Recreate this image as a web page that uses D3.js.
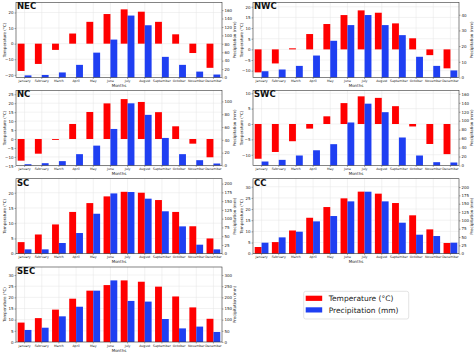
<!DOCTYPE html>
<html><head><meta charset="utf-8">
<script src="https://cdn.jsdelivr.net/npm/d3@7"></script>
<style>body{margin:0;background:#fff} svg{display:block}</style>
</head><body><svg id="c" width="474" height="355"></svg>
<script>
const months = ["January","February","March","April","May","June","July","August","September","October","November","December"];

const tempNEC = [-17.5, -13, -4, 6.5, 14, 19, 22, 20.5, 14, 6, -6, -15.5];
const precNEC = [5, 6, 12, 30, 59, 90, 147, 124, 49, 30, 14, 7];
const tempNWC = [-10.8, -6.6, 0.5, 7.2, 11.9, 16.1, 18.3, 17.2, 12.2, 5.2, -2.7, -8.9];
const precNWC = [4, 5.1, 7.4, 14, 23.4, 33.4, 39.8, 33.4, 27, 13.2, 7.4, 4.5];
const tempNC = [-12.1, -8.2, -0.5, 8.4, 15.1, 19.9, 22.3, 20.7, 15, 7.1, -2.6, -10.2];
const precNC = [2, 3.6, 6.8, 17.7, 31, 57, 97, 79, 43, 17.7, 8.3, 3.1];
const tempSWC = [-11.3, -9.1, -5.6, -1.5, 2.5, 6.8, 9, 8.5, 5.8, -0.8, -6.5, -9.8];
const precSWC = [8.9, 12.6, 22.3, 34, 47.6, 96, 138, 119, 62.5, 22.3, 7.4, 6.7];
const tempSC = [3.8, 6.3, 9.6, 13.7, 16.6, 18.8, 20.3, 20, 17.6, 13.7, 9, 5];
const precSC = [12.4, 12.4, 30.5, 59, 114, 172, 176, 157, 121, 78, 25.7, 12.4];
const tempCC = [3, 5.2, 10.4, 16.1, 20.9, 24.8, 27.8, 26.9, 22.7, 17.2, 10.9, 4.8];
const precCC = [33, 49, 66, 97, 113, 157, 186, 157, 93, 57, 53, 33];
const tempSEC = [8.7, 10.7, 14.5, 19.4, 23, 25.5, 27.6, 27, 24.8, 20.4, 15.5, 10.4];
const precSEC = [54, 64, 115, 158, 230, 276, 184, 181, 103, 61, 69, 45];

const tTicksNEC = [-20, -10, 0, 10, 20];
const pTicksNEC = [0, 20, 40, 60, 80, 100, 120, 140, 160];
const tTicksNWC = [-10, -5, 0, 5, 10, 15, 20];
const pTicksNWC = [0, 10, 20, 30, 40];
const tTicksNC = [-15, -10, -5, 0, 5, 10, 15, 20, 25];
const pTicksNC = [0, 20, 40, 60, 80, 100];
const tTicksSWC = [-10, -5, 0, 5, 10];
const pTicksSWC = [0, 20, 40, 60, 80, 100, 120, 140, 160];
const tTicksSC = [0, 5, 10, 15, 20];
const pTicksSC = [0, 25, 50, 75, 100, 125, 150, 175, 200];
const tTicksCC = [0, 5, 10, 15, 20, 25, 30];
const pTicksCC = [0, 25, 50, 75, 100, 125, 150, 175, 200];
const tTicksSEC = [0, 5, 10, 15, 20, 25, 30];
const pTicksSEC = [0, 50, 100, 150, 200, 250, 300];

const legendLabels = ["Temperature (°C)", "Precipitation (mm)"];

const RED = "#ff0000", BLUE = "#1f3ff2";
const FONT = "DejaVu Sans, sans-serif";
const colLeft = [16, 253], plotW = 206, rowTop = [2.5, 90.5, 178.7, 267], plotH = 75;

const panels = [
  {name:"NEC", col:0, row:0, temp:tempNEC, prec:precNEC, tDom:[-21.7,26.4], pDom:[0,178], tT:tTicksNEC, pT:pTicksNEC},
  {name:"NWC", col:1, row:0, temp:tempNWC, prec:precNWC, tDom:[-13.2,22], pDom:[0,47.8], tT:tTicksNWC, pT:pTicksNWC},
  {name:"NC", col:0, row:1, temp:tempNC, prec:precNC, tDom:[-14.8,27.1], pDom:[0,117], tT:tTicksNC, pT:pTicksNC},
  {name:"SWC", col:1, row:1, temp:tempSWC, prec:precSWC, tDom:[-13.5,10.9], pDom:[0,167.4], tT:tTicksSWC, pT:pTicksSWC},
  {name:"SC", col:0, row:2, temp:tempSC, prec:precSC, tDom:[0,24.6], pDom:[0,214], tT:tTicksSC, pT:pTicksSC},
  {name:"CC", col:1, row:2, temp:tempCC, prec:precCC, tDom:[0,33.6], pDom:[0,225], tT:tTicksCC, pT:pTicksCC},
  {name:"SEC", col:0, row:3, temp:tempSEC, prec:precSEC, tDom:[0,33.6], pDom:[0,336], tT:tTicksSEC, pT:pTicksSEC}
];

const svg = d3.select("#c");

panels.forEach(p => {
  const x0 = colLeft[p.col], y0 = rowTop[p.row];
  const g = svg.append("g").attr("transform", `translate(${x0},${y0})`);
  const x = d3.scaleBand().domain(months).range([0, plotW]);
  const yT = d3.scaleLinear().domain(p.tDom).range([plotH, 0]);
  const yP = d3.scaleLinear().domain(p.pDom).range([plotH, 0]);
  const c = m => x(m) + x.bandwidth() / 2;
  const bw = x.bandwidth() * 0.4;

  // grid
  g.append("g").selectAll("line").data(months).join("line")
    .attr("x1", c).attr("x2", c).attr("y1", 0).attr("y2", plotH)
    .attr("stroke", "#e4e4e4").attr("stroke-width", 0.5);
  g.append("g").selectAll("line").data(p.tT).join("line")
    .attr("x1", 0).attr("x2", plotW).attr("y1", d => yT(d)).attr("y2", d => yT(d))
    .attr("stroke", "#e4e4e4").attr("stroke-width", 0.5);

  // temperature bars
  g.append("g").selectAll("rect").data(p.temp).join("rect")
    .attr("x", (d, i) => c(months[i]) - bw)
    .attr("width", bw)
    .attr("y", d => yT(Math.max(0, d)))
    .attr("height", d => Math.abs(yT(d) - yT(0)))
    .attr("fill", RED);

  // precipitation bars
  g.append("g").selectAll("rect").data(p.prec).join("rect")
    .attr("x", (d, i) => c(months[i]))
    .attr("width", bw)
    .attr("y", d => yP(d))
    .attr("height", d => yP(0) - yP(d))
    .attr("fill", BLUE);

  // frame
  g.append("rect").attr("width", plotW).attr("height", plotH)
    .attr("fill", "none").attr("stroke", "#333").attr("stroke-width", 0.6);

  const styleAxis = (a, fs) => {
    a.select(".domain").remove();
    a.selectAll("line").attr("stroke", "#333").attr("stroke-width", 0.4);
    a.selectAll("text").attr("font-size", fs).attr("font-family", FONT).attr("fill", "#222");
  };
  g.append("g").call(d3.axisLeft(yT).tickValues(p.tT).tickSize(1.5).tickPadding(1)).call(styleAxis, 4);
  g.append("g").attr("transform", `translate(${plotW},0)`)
    .call(d3.axisRight(yP).tickValues(p.pT).tickSize(1.5).tickPadding(1)).call(styleAxis, 4);
  g.append("g").attr("transform", `translate(0,${plotH})`)
    .call(d3.axisBottom(x).tickSize(1.5).tickPadding(1)).call(styleAxis, 3.2);

  // axis titles
  g.append("text").attr("transform", `translate(-10,${plotH/2}) rotate(-90)`)
    .attr("text-anchor", "middle").attr("font-size", 4).attr("font-family", FONT).attr("fill", "#222")
    .text("Temperature (°C)");
  g.append("text").attr("transform", `translate(${plotW + 14},${plotH/2}) rotate(-90)`)
    .attr("text-anchor", "middle").attr("font-size", 4).attr("font-family", FONT).attr("fill", "#222")
    .text("Precipitation (mm)");
  g.append("text").attr("x", plotW / 2).attr("y", plotH + 9.5)
    .attr("text-anchor", "middle").attr("font-size", 4).attr("font-family", FONT).attr("fill", "#222")
    .text("Months");

  // panel title
  g.append("text").attr("x", 1).attr("y", 6.8)
    .attr("font-size", 8.5).attr("font-weight", "bold").attr("font-family", FONT).attr("fill", "#111")
    .text(p.name);
});

// legend
const lg = svg.append("g").attr("transform", "translate(303.7,291.3)");
lg.append("rect").attr("width", 105).attr("height", 27.7).attr("rx", 2)
  .attr("fill", "#fff").attr("stroke", "#d8d8d8").attr("stroke-width", 0.7);
lg.selectAll("g.item").data(legendLabels).join("g").attr("class", "item")
  .attr("transform", (d, i) => `translate(2,${4.4 + i * 11.6})`)
  .each(function(d, i) {
    const s = d3.select(this);
    s.append("rect").attr("width", 16.5).attr("height", 5.2).attr("fill", i === 0 ? RED : BLUE);
    s.append("text").attr("x", 23).attr("y", 5.4).attr("font-size", 7.5)
      .attr("font-family", FONT).attr("fill", "#222").text(d);
  });
</script>
</body></html>
